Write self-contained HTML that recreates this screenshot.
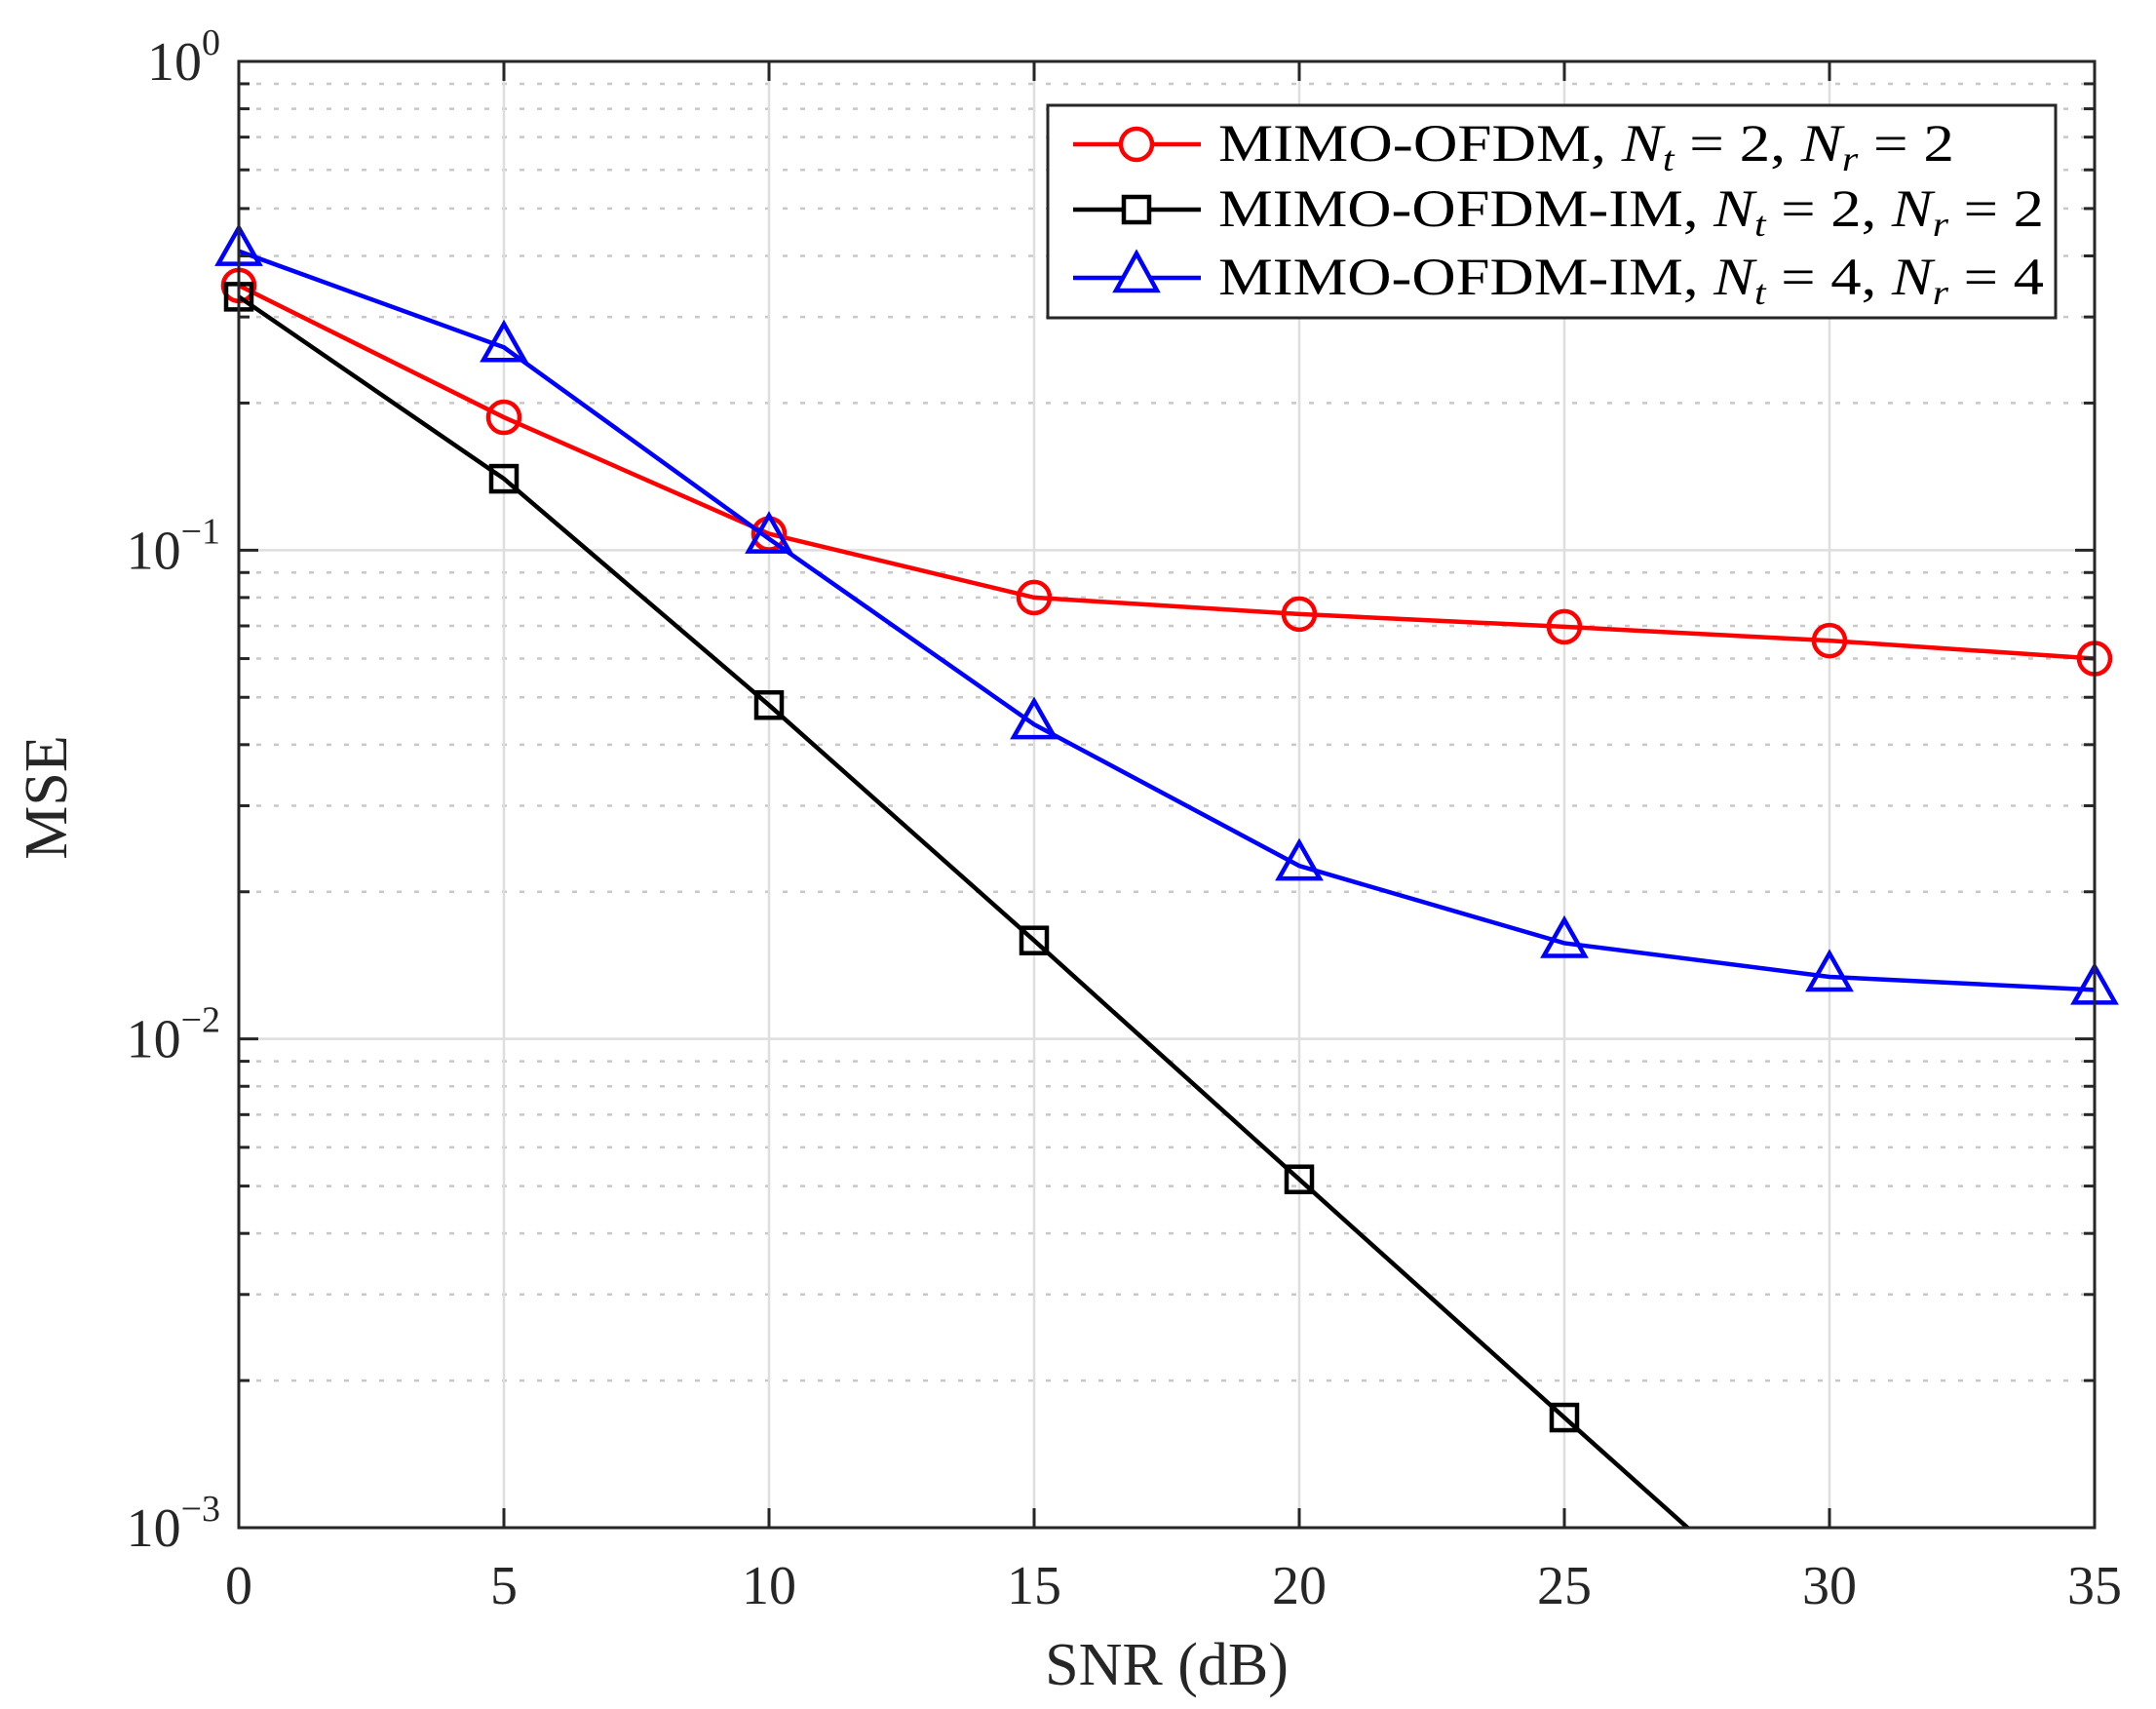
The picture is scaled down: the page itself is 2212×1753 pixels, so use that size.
<!DOCTYPE html>
<html><head><meta charset="utf-8"><style>
html,body{margin:0;padding:0;background:#fff;overflow:hidden;width:2212px;height:1753px;}
svg{display:block;font-family:"Liberation Serif","DejaVu Serif",serif;}
</style></head><body>
<svg id="chart" width="2212" height="1753" viewBox="0 0 2212 1753" xmlns="http://www.w3.org/2000/svg">
<rect x="0" y="0" width="2212" height="1753" fill="#fff"/>
<g id="grid"></g>
<g id="series"></g>
<g id="axes"></g>
<text x="1197" y="1728" font-size="62" text-anchor="middle" fill="#262626">SNR (dB)</text>
<text x="0" y="0" font-size="62" text-anchor="middle" fill="#262626" transform="translate(68,818) rotate(-90)">MSE</text>
<g>
<rect x="1075" y="108" width="1034" height="218" fill="#fff" stroke="#262626" stroke-width="3"/>
<line x1="1101" y1="148" x2="1232" y2="148" stroke="#ff0000" stroke-width="4.5"/>
<circle cx="1166" cy="148" r="16" fill="#fff" stroke="#ff0000" stroke-width="4.5"/>
<text x="1250" y="165" font-size="54" fill="#000" textLength="755" lengthAdjust="spacingAndGlyphs">MIMO-OFDM, <tspan font-style="italic">N</tspan><tspan font-style="italic" font-size="36" dy="10">t</tspan><tspan dy="-10"> = 2,  </tspan><tspan font-style="italic">N</tspan><tspan font-style="italic" font-size="36" dy="10">r</tspan><tspan dy="-10"> = 2</tspan></text>
<line x1="1101" y1="215" x2="1232" y2="215" stroke="#000" stroke-width="4.5"/>
<rect x="1153" y="202" width="26" height="26" fill="#fff" stroke="#000" stroke-width="4.5"/>
<text x="1250" y="232" font-size="54" fill="#000" textLength="847" lengthAdjust="spacingAndGlyphs">MIMO-OFDM-IM, <tspan font-style="italic">N</tspan><tspan font-style="italic" font-size="36" dy="10">t</tspan><tspan dy="-10"> = 2,  </tspan><tspan font-style="italic">N</tspan><tspan font-style="italic" font-size="36" dy="10">r</tspan><tspan dy="-10"> = 2</tspan></text>
<line x1="1101" y1="285" x2="1232" y2="285" stroke="#0000ff" stroke-width="4.5"/>
<polygon points="1166,260 1187,298 1145,298" fill="#fff" stroke="#0000ff" stroke-width="4.5"/>
<text x="1250" y="302" font-size="54" fill="#000" textLength="847" lengthAdjust="spacingAndGlyphs">MIMO-OFDM-IM, <tspan font-style="italic">N</tspan><tspan font-style="italic" font-size="36" dy="10">t</tspan><tspan dy="-10"> = 4,  </tspan><tspan font-style="italic">N</tspan><tspan font-style="italic" font-size="36" dy="10">r</tspan><tspan dy="-10"> = 4</tspan></text>
</g>
</svg>
<script>
const snr = [0, 5, 10, 15, 20, 25, 30, 35];
const mseOfdm22 = [0.348, 0.187, 0.108, 0.080, 0.074, 0.0697, 0.0653, 0.060];
const mseIm22 = [0.33, 0.140, 0.0482, 0.0159, 0.00516, 0.00168, 0.00055, 0.00018];
const mseIm44 = [0.409, 0.26, 0.1055, 0.044, 0.0226, 0.0157, 0.0134, 0.0126];
const xTicks = [0, 5, 10, 15, 20, 25, 30, 35];
const yDecades = [-3, -2, -1, 0];

const NS = "http://www.w3.org/2000/svg";
const L = 245, R = 2149, T = 63, B = 1567;
const xMin = 0, xMax = 35, yMin = -3, yMax = 0;
function xs(v){ return L + (v - xMin) / (xMax - xMin) * (R - L); }
function ys(v){ return B - (Math.log10(v) - yMin) / (yMax - yMin) * (B - T); }
function mk(tag, attrs, parent){ const e = document.createElementNS(NS, tag); for (const k in attrs) e.setAttribute(k, attrs[k]); parent.appendChild(e); return e; }

const grid = document.getElementById('grid');
const axes = document.getElementById('axes');
const series = document.getElementById('series');

for (let d = yMin; d < yMax; d++) {
  for (let m = 2; m <= 9; m++) {
    const y = ys(m * Math.pow(10, d));
    const g = mk('line', {x1: L, x2: R, y1: y, y2: y, stroke: '#c8c8c8', 'stroke-width': 2.5, 'stroke-dasharray': '5 13'}, grid);
    
    
    const t1 = mk('line', {x1: L, x2: L + 11, y1: y, y2: y, stroke: '#262626', 'stroke-width': 3}, axes);
    
    
    const t2 = mk('line', {x1: R - 11, x2: R, y1: y, y2: y, stroke: '#262626', 'stroke-width': 3}, axes);
    
    
  }
}
yDecades.forEach(d => {
  const y = ys(Math.pow(10, d));
  const g = mk('line', {x1: L, x2: R, y1: y, y2: y, stroke: '#dedede', 'stroke-width': 2.5}, grid);
  
  
  const t1 = mk('line', {x1: L, x2: L + 20, y1: y, y2: y, stroke: '#262626', 'stroke-width': 3}, axes);
  
  
  const t2 = mk('line', {x1: R - 20, x2: R, y1: y, y2: y, stroke: '#262626', 'stroke-width': 3}, axes);
  
  
  const tx = mk('text', {x: 226, y: y + 19, 'font-size': 56, 'text-anchor': 'end', fill: '#262626'}, axes);
  
  
  tx.appendChild(document.createTextNode('10'));
  const sup = mk('tspan', {dy: -26, 'font-size': 38}, tx);
  sup.textContent = d === 0 ? '0' : '\u2212' + (-d);
});
xTicks.forEach(v => {
  const x = xs(v);
  const g = mk('line', {x1: x, x2: x, y1: T, y2: B, stroke: '#dedede', 'stroke-width': 2.5}, grid);
  
  
  const t1 = mk('line', {x1: x, x2: x, y1: B, y2: B - 20, stroke: '#262626', 'stroke-width': 3}, axes);
  
  
  const t2 = mk('line', {x1: x, x2: x, y1: T, y2: T + 20, stroke: '#262626', 'stroke-width': 3}, axes);
  
  
  const tx = mk('text', {x: x, y: 1645, 'font-size': 56, 'text-anchor': 'middle', fill: '#262626'}, axes);
  
  
  tx.textContent = v;
});
const frame = mk('rect', {x: L, y: T, width: R - L, height: B - T, fill: 'none', stroke: '#262626', 'stroke-width': 3}, axes);



const defs = mk('defs', {}, document.getElementById('chart'));
const cp = mk('clipPath', {id: 'plotclip'}, defs);
mk('rect', {x: L - 30, y: T - 30, width: R - L + 60, height: B - T + 30}, cp);
series.setAttribute('clip-path', 'url(#plotclip)');

function drawSeries(vals, color, marker, name) {
  const g = mk('g', {}, series);
  
  
  const pts = snr.map((s, i) => xs(s) + ',' + ys(vals[i])).join(' ');
  const pl = mk('polyline', {points: pts, fill: 'none', stroke: color, 'stroke-width': 4.5}, g);
  
  
  snr.forEach((s, i) => {
    const x = xs(s), y = ys(vals[i]);
    if (y > B + 5) return;
    let m;
    if (marker === 'circle') m = mk('circle', {cx: x, cy: y, r: 16, fill: 'none', stroke: color, 'stroke-width': 4.5}, g);
    else if (marker === 'square') m = mk('rect', {x: x - 13, y: y - 13, width: 26, height: 26, fill: 'none', stroke: color, 'stroke-width': 4.5}, g);
    else m = mk('polygon', {points: x + ',' + (y - 24) + ' ' + (x + 21) + ',' + (y + 13) + ' ' + (x - 21) + ',' + (y + 13), fill: 'none', stroke: color, 'stroke-width': 4.5}, g);
    
    
  });
}
drawSeries(mseOfdm22, '#ff0000', 'circle', 'series-mimo-ofdm-2x2');
drawSeries(mseIm22, '#000000', 'square', 'series-mimo-ofdm-im-2x2');
drawSeries(mseIm44, '#0000ff', 'triangle', 'series-mimo-ofdm-im-4x4');
</script>
</body></html>
